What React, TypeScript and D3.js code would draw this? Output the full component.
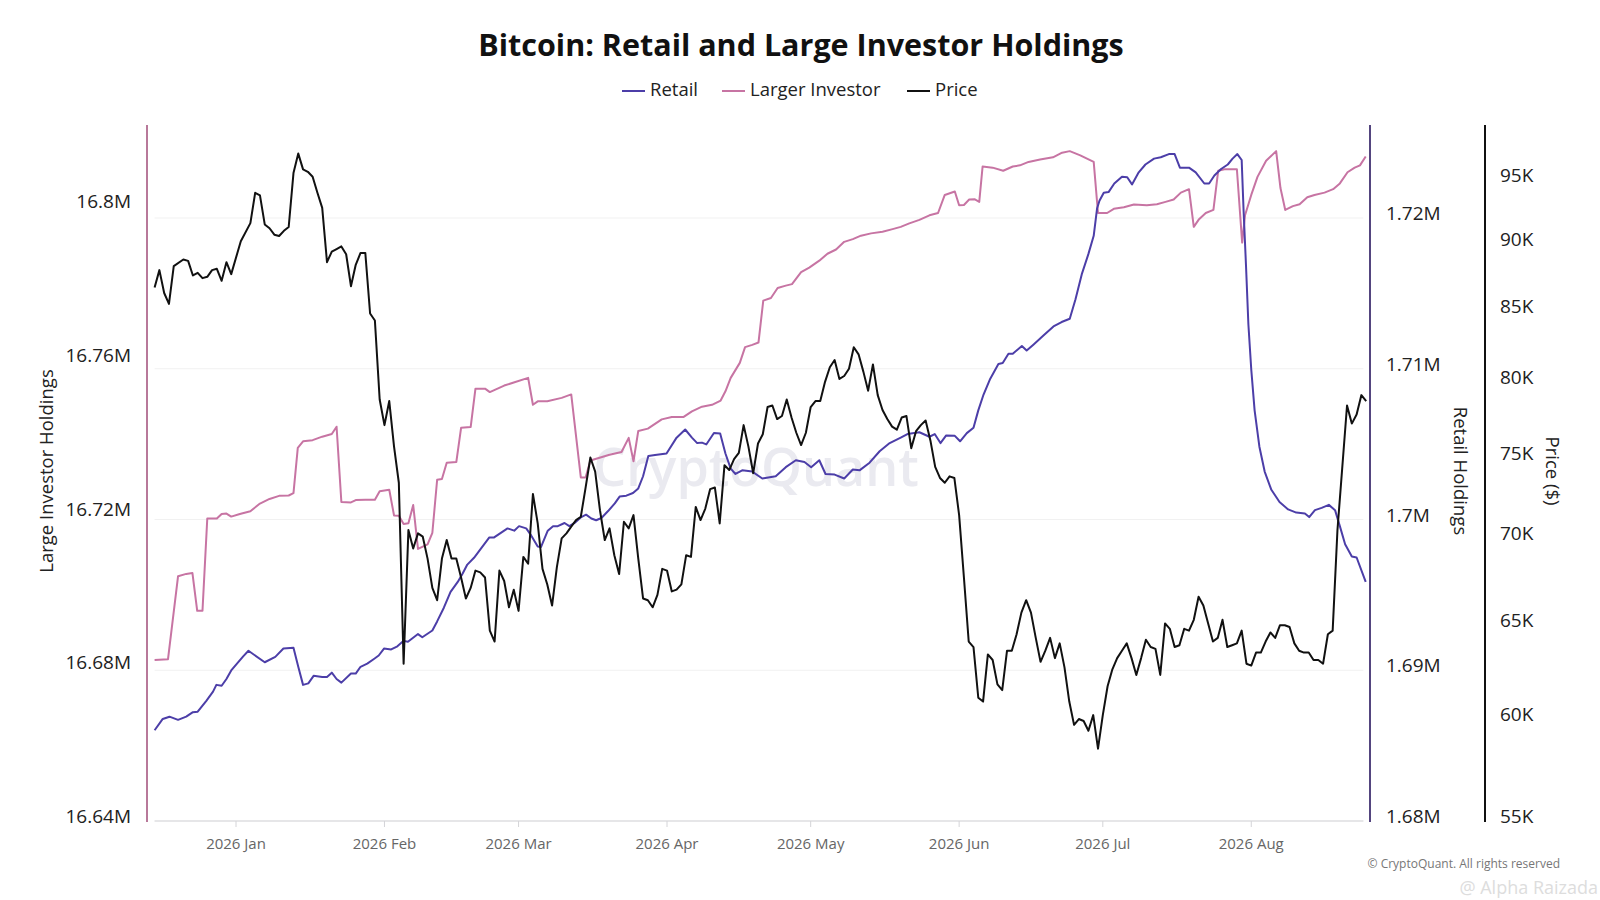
import * as d3 from 'd3'
import React, { useEffect, useRef } from 'react'

// day offsets from 2025-12-15
const START = new Date(2025, 11, 15)
const END = new Date(2026, 7, 24)

// Retail holdings (M BTC)
const retailHoldings: [number, number][] = [
  [0, 1.68602], [1.7, 1.68677], [3.1, 1.68692], [4.9, 1.68671], [6.6, 1.68692], [8, 1.68722], [9, 1.68725],
  [10.8, 1.68797], [12.2, 1.68858], [12.9, 1.68903], [14, 1.68897], [15, 1.68942], [16, 1.68999], [17.2, 1.69044],
  [18.5, 1.69092], [19.6, 1.69129], [23, 1.69053], [25.2, 1.69089], [26.9, 1.69144], [29, 1.6915], [30, 1.69023],
  [31, 1.68903], [32.1, 1.68913], [33.2, 1.68963], [35, 1.68956], [36, 1.68956], [37, 1.68984], [38, 1.68942],
  [39, 1.68918], [41, 1.68978], [42, 1.68978], [43, 1.69023], [44.4, 1.69044], [45.8, 1.69075], [46.8, 1.69098],
  [47.9, 1.69144], [49.4, 1.69138], [50.7, 1.69159], [52, 1.69195], [52.9, 1.69189], [55, 1.6924], [55.9, 1.69219],
  [58, 1.69264], [59, 1.69324], [60.4, 1.69415], [61.8, 1.6952], [63.3, 1.69586], [64.3, 1.6964], [65.3, 1.69701],
  [66.7, 1.69746], [68.1, 1.69805], [69.9, 1.69881], [70.9, 1.69881], [72.3, 1.69911], [73.7, 1.69941],
  [75.1, 1.69926], [76.1, 1.69956], [77.6, 1.69941], [78.6, 1.69896], [80, 1.69821], [80.7, 1.69818],
  [82.1, 1.69926], [83.2, 1.69956], [84.2, 1.69956], [85.6, 1.69977], [86.6, 1.69956], [87.7, 1.69977],
  [89.1, 1.70016], [90.1, 1.70032], [91.2, 1.70007], [92.2, 1.69995], [93.3, 1.7001], [94.7, 1.70056],
  [96.1, 1.70107], [97.1, 1.70152], [98.5, 1.70158], [99.9, 1.70176], [101, 1.70206], [102, 1.70287],
  [103.1, 1.70422], [104.5, 1.70428], [106.9, 1.70438], [109, 1.70543], [110.8, 1.70597], [112.2, 1.70543],
  [113.3, 1.70507], [114.3, 1.7051], [115.2, 1.70498], [116.8, 1.70574], [118.1, 1.70571], [119.2, 1.70438],
  [120.3, 1.70338], [121.3, 1.70302], [122.7, 1.70326], [124.8, 1.70318], [126.9, 1.70272], [129.7, 1.70287],
  [131.8, 1.70347], [133.9, 1.70393], [135.7, 1.70381], [137.1, 1.70347], [138.8, 1.70393], [140.1, 1.70302],
  [142, 1.70298], [144, 1.70272], [145.8, 1.70332], [147.2, 1.70326], [149.3, 1.70377], [151.4, 1.70453],
  [153.5, 1.70507], [155.8, 1.70543], [157.2, 1.70567], [159.7, 1.70579], [161.8, 1.70549], [162.9, 1.70567],
  [164.1, 1.70507], [165.3, 1.70558], [167.1, 1.70555], [168.2, 1.70519], [169.6, 1.70573], [171, 1.70609],
  [172, 1.70724], [173.1, 1.70829], [174.5, 1.70934], [176.2, 1.71031], [177.1, 1.71038], [178.3, 1.711],
  [179.2, 1.711], [181.1, 1.71151], [182.1, 1.71121], [183.5, 1.7116], [185.6, 1.7122], [187.7, 1.71281],
  [189.4, 1.7131], [191.1, 1.71332], [192.3, 1.71461], [193.6, 1.71626], [195, 1.71762], [196.1, 1.71882],
  [196.8, 1.72063], [197.3, 1.72114], [198.2, 1.72168], [199.2, 1.72172], [200.4, 1.72229], [202, 1.72274],
  [203.1, 1.7227], [204.1, 1.72223], [205.5, 1.72303], [206.9, 1.72355], [208.7, 1.72394], [210.1, 1.72403],
  [211.8, 1.72424], [213, 1.72424], [214.1, 1.72334], [216, 1.72334], [217.4, 1.72303], [219.2, 1.72229],
  [220.2, 1.72229], [221.3, 1.72282], [222.7, 1.72325], [224.1, 1.72355], [225.1, 1.72394], [226.1, 1.72424],
  [227, 1.72385], [227.4, 1.72048], [227.9, 1.71687], [228.4, 1.71295], [229, 1.70995], [229.7, 1.70724],
  [230.7, 1.70483], [231.8, 1.70318], [233.2, 1.70197], [234.9, 1.70116], [236.7, 1.70067], [238.4, 1.70046],
  [240.2, 1.7004], [241.1, 1.70016], [242.3, 1.70062], [243.7, 1.70077], [245.2, 1.70097], [246.5, 1.70062],
  [247.5, 1.69956], [248.6, 1.69836], [250, 1.69754], [251, 1.69748], [252.9, 1.69586],
]

// Large investor holdings (M BTC)
const largeInvestorHoldings: [number, number][] = [
  [0, 16.6819], [2.8, 16.6821], [4.9, 16.7037], [6.6, 16.7043], [7.9, 16.7045], [8.9, 16.6947], [10, 16.6947],
  [11, 16.7187], [13, 16.7187], [14, 16.7199], [15, 16.72], [16, 16.7192], [17.8, 16.7199], [20, 16.7206],
  [22, 16.7226], [24, 16.7238], [26, 16.7246], [28, 16.7247], [29, 16.7253], [29.9, 16.7371], [31, 16.7388],
  [33, 16.7391], [35, 16.74], [37, 16.7407], [38, 16.7426], [39, 16.723], [41, 16.7229], [42, 16.7235],
  [44, 16.7236], [46, 16.7236], [47, 16.7258], [49, 16.7262], [50, 16.7195], [51, 16.7194], [52, 16.7173],
  [53, 16.7175], [54, 16.7222], [55, 16.7108], [57, 16.712], [58, 16.715], [59, 16.7288], [60, 16.729],
  [61, 16.7332], [63, 16.7334], [64, 16.7423], [66, 16.7425], [67, 16.7525], [69, 16.7525], [70, 16.7516],
  [73, 16.7533], [75, 16.7541], [78, 16.7553], [79, 16.7483], [80, 16.7492], [82, 16.7492], [85, 16.7501],
  [87, 16.751], [89, 16.7294], [90, 16.7294], [91, 16.7338], [95, 16.7353], [97.5, 16.736], [99, 16.7397],
  [100, 16.7336], [101, 16.7415], [103, 16.7421], [105.9, 16.7445], [108, 16.7451], [110.4, 16.7451],
  [112.2, 16.7466], [114.3, 16.7478], [116.4, 16.7483], [118.2, 16.7494], [119.2, 16.7518], [120.3, 16.7553],
  [122.2, 16.7592], [123.3, 16.7633], [124.8, 16.7639], [126.1, 16.7645], [127.1, 16.7754], [128.7, 16.7761],
  [130.1, 16.7787], [131.8, 16.7793], [133.1, 16.7797], [135, 16.7828], [136.7, 16.784], [138.8, 16.7858],
  [140.5, 16.7876], [142.3, 16.7887], [144, 16.7907], [145.8, 16.7914], [147.5, 16.7923], [149.6, 16.7929],
  [152, 16.7933], [154.1, 16.794], [155.8, 16.7946], [157.6, 16.7955], [159.7, 16.7964], [161.8, 16.7976],
  [163.6, 16.7982], [165, 16.8029], [167.1, 16.8038], [168, 16.8002], [169, 16.8003], [170.1, 16.8017],
  [171.2, 16.8018], [172.2, 16.8011], [172.9, 16.8103], [175, 16.81], [177.2, 16.8092], [179.2, 16.8103],
  [180.7, 16.8106], [182.5, 16.8115], [184.9, 16.8121], [187.6, 16.8127], [189.5, 16.8139], [191.1, 16.8143],
  [193.3, 16.8132], [196.1, 16.8115], [197, 16.7982], [198.9, 16.7982], [200.3, 16.7993], [202.4, 16.7997],
  [204.5, 16.8004], [207.2, 16.8002], [209.3, 16.8005], [211.1, 16.8011], [212.8, 16.8017], [214.3, 16.8035],
  [216, 16.8044], [217, 16.7946], [218.1, 16.7966], [219.5, 16.7982], [221.1, 16.799], [222.1, 16.8092],
  [223.4, 16.8096], [226, 16.8096], [227.1, 16.7905], [227.7, 16.7976], [229, 16.8029], [230.3, 16.8076],
  [232.1, 16.8118], [234.2, 16.8143], [235.1, 16.8047], [236.1, 16.799], [237.7, 16.8], [239.1, 16.8005],
  [240.7, 16.8023], [242.2, 16.8029], [244.3, 16.8035], [246.1, 16.8044], [247.5, 16.8059], [249.1, 16.8088],
  [250.6, 16.81], [251.7, 16.8106], [252.9, 16.8129],
]

// BTC price (K USD)
const btcPrice: [number, number][] = [
  [0, 86.7], [1, 88.0], [2, 86.3], [3, 85.5], [4, 88.3], [6, 88.8], [7, 88.7], [8, 87.6], [9, 87.8], [10, 87.4],
  [11, 87.5], [12, 88.0], [13, 88.1], [14, 87.2], [15, 88.6], [16, 87.7], [18, 90.2], [20, 91.6], [21, 94.0],
  [22, 93.8], [23, 91.5], [24, 91.2], [25, 90.7], [26, 90.6], [27, 91.0], [28, 91.3], [29, 95.6], [30, 97.2],
  [31, 95.9], [32, 95.7], [33, 95.3], [34, 94.0], [35, 92.8], [36, 88.6], [37, 89.4], [38, 89.6], [39, 89.8],
  [40, 89.2], [41, 86.8], [42, 88.4], [43, 89.3], [44, 89.3], [45, 84.8], [46, 84.3], [47, 78.8], [48, 77.1],
  [49, 78.7], [50, 75.7], [51, 73.4], [52, 62.9], [53, 70.5], [54, 69.4], [55, 70.3], [56, 70.1], [57, 68.8],
  [58, 67.1], [59, 66.4], [60, 68.8], [61, 69.9], [62, 68.8], [63, 68.8], [64, 67.7], [65, 66.5], [66, 67.1],
  [67, 68.1], [68, 68.0], [69, 67.7], [70, 64.7], [71, 64.1], [72, 68.1], [73, 67.5], [74, 66.0], [75, 67.0],
  [76, 65.8], [77, 68.9], [78, 68.5], [79, 72.7], [80, 70.9], [81, 68.2], [82, 67.3], [83, 66.1], [84, 68.3],
  [85, 70.0], [86, 70.3], [87, 70.7], [88, 71.1], [89, 71.3], [90, 73.1], [91, 75.0], [92, 74.1], [93, 71.7],
  [94, 69.9], [95, 70.6], [96, 69.0], [97, 67.9], [98, 71.0], [99, 70.6], [100, 71.4], [101, 68.8], [102, 66.5],
  [103, 66.4], [104, 66.0], [105, 66.7], [106, 68.2], [107, 68.1], [108, 66.9], [109, 67.0], [110, 67.3],
  [111, 69.0], [112, 68.9], [113, 71.9], [114, 71.1], [115, 71.8], [116, 73.0], [117, 73.1], [118, 70.9],
  [119, 74.5], [120, 74.2], [121, 74.9], [122, 75.3], [123, 77.1], [124, 75.7], [125, 74.0], [126, 75.9],
  [127, 76.5], [128, 78.3], [129, 78.4], [130, 77.5], [131, 77.7], [132, 78.8], [133, 77.6], [134, 76.6],
  [135, 75.8], [136, 76.6], [137, 78.3], [138, 78.7], [139, 78.7], [140, 80.0], [141, 81.0], [142, 81.5],
  [143, 80.2], [144, 80.4], [145, 80.9], [146, 82.4], [147, 81.9], [148, 80.7], [149, 79.4], [150, 81.2],
  [151, 79.1], [152, 78.1], [153, 77.5], [154, 77.0], [155, 76.8], [156, 77.6], [157, 77.7], [158, 75.6],
  [159, 76.7], [160, 77.1], [161, 77.4], [162, 76.1], [163, 74.4], [164, 73.7], [165, 73.4], [166, 73.8],
  [167, 73.7], [168, 71.4], [169, 67.7], [170, 64.1], [171, 63.8], [172, 61.1], [173, 60.9], [174, 63.4],
  [175, 63.1], [176, 61.8], [177, 61.5], [178, 63.6], [179, 63.6], [180, 64.5], [181, 65.7], [182, 66.4],
  [183, 65.7], [184, 64.3], [185, 63.0], [186, 63.6], [187, 64.3], [188, 63.2], [189, 64.0], [190, 62.7],
  [191, 60.9], [192, 59.7], [193, 60.0], [194, 59.9], [195, 59.4], [196, 60.2], [197, 58.5], [198, 60.2],
  [199, 61.7], [200, 62.6], [201, 63.2], [202, 63.6], [203, 64.0], [204, 63.2], [205, 62.3], [206, 63.2],
  [207, 64.2], [208, 63.8], [209, 63.7], [210, 62.3], [211, 65.1], [212, 64.8], [213, 63.8], [214, 63.9],
  [215, 64.8], [216, 64.7], [217, 65.3], [218, 66.6], [219, 66.1], [220, 65.1], [221, 64.1], [222, 64.3],
  [223, 65.3], [224, 63.8], [225, 63.9], [226, 64.0], [227, 64.7], [228, 62.9], [229, 62.8], [230, 63.5],
  [231, 63.5], [232, 64.1], [233, 64.6], [234, 64.3], [235, 65.0], [236, 65.0], [237, 64.9], [238, 64.0],
  [239, 63.6], [240, 63.5], [241, 63.5], [242, 63.1], [243, 63.1], [244, 62.9], [245, 64.5], [246, 64.7],
  [247, 70.5], [249, 78.4], [250, 77.2], [251, 77.8], [252, 79.1], [253, 78.7],
]

const largeTicks = [16.64, 16.68, 16.72, 16.76, 16.8]
const retailTicks = [1.68, 1.69, 1.7, 1.71, 1.72]
const priceTicks = [55, 60, 65, 70, 75, 80, 85, 90, 95]
const monthTicks = [0, 1, 2, 3, 4, 5, 6, 7].map((m) => new Date(2026, m, 1))

const COLORS = { retail: '#4c3ea8', large: '#c774a3', price: '#111111' }
const FONT = '"Open Sans", "Noto Sans", sans-serif'

const W = 1600
const H = 900

const App = () => {
  const ref = useRef<SVGSVGElement>(null)

  useEffect(() => {
    const svg = d3.select(ref.current)
    svg.selectAll('*').remove()

    const top = 125
    const bottom = 821
    const left = 154.6
    const right = 1361.4

    const x = d3.scaleTime().domain([START, END]).range([left, right])
    const dayX = (d: number) => x(new Date(START.getTime() + d * 86400000))
    const yLarge = d3.scaleLinear().domain([16.64, 16.8211]).range([bottom, top])
    const yRetail = d3.scaleLinear().domain([1.68, 1.72617]).range([bottom, top])
    const yPrice = d3.scaleLog().domain([55, 99.6]).range([bottom, top])

    svg.style('font-family', FONT)

    // Title
    svg
      .append('text')
      .attr('x', 801)
      .attr('y', 48)
      .attr('text-anchor', 'middle')
      .attr('dominant-baseline', 'middle')
      .attr('font-size', 30.5)
      .attr('font-weight', 700)
      .attr('fill', '#111')
      .text('Bitcoin: Retail and Large Investor Holdings')

    // Legend
    const legend = [
      { label: 'Retail', color: COLORS.retail, x: 622 },
      { label: 'Larger Investor', color: COLORS.large, x: 722 },
      { label: 'Price', color: COLORS.price, x: 907 },
    ]
    legend.forEach((l) => {
      svg.append('line').attr('x1', l.x).attr('x2', l.x + 23).attr('y1', 91).attr('y2', 91)
        .attr('stroke', l.color).attr('stroke-width', 2)
      svg.append('text').attr('x', l.x + 28).attr('y', 91).attr('dominant-baseline', 'middle')
        .attr('font-size', 18.5).attr('fill', '#222').text(l.label)
    })

    // Watermark
    svg.append('text').attr('x', 756).attr('y', 472).attr('text-anchor', 'middle')
      .attr('dominant-baseline', 'middle').attr('font-size', 52).attr('font-weight', 600)
      .attr('fill', '#d9d9e4').attr('opacity', 0.55).text('CryptoQuant')

    // Grid lines (retail ticks)
    svg.append('g').selectAll('line').data(retailTicks).join('line')
      .attr('x1', left).attr('x2', right + 2)
      .attr('y1', (d) => yRetail(d)).attr('y2', (d) => yRetail(d))
      .attr('stroke', '#f1f1f1').attr('stroke-width', 1)

    // X axis
    const xg = svg.append('g')
    xg.append('line').attr('x1', left).attr('x2', right + 2).attr('y1', bottom).attr('y2', bottom)
      .attr('stroke', '#d4d4d8').attr('stroke-width', 1)
    xg.selectAll('line.tick').data(monthTicks).join('line').attr('class', 'tick')
      .attr('x1', (d) => x(d)).attr('x2', (d) => x(d)).attr('y1', bottom).attr('y2', bottom + 6)
      .attr('stroke', '#d4d4d8')
    xg.selectAll('text').data(monthTicks).join('text')
      .attr('x', (d) => x(d)).attr('y', 845).attr('text-anchor', 'middle').attr('dominant-baseline', 'middle')
      .attr('font-size', 15).attr('fill', '#666').text((d) => d3.timeFormat('%Y %b')(d))

    // Y axes
    svg.append('line').attr('x1', 147).attr('x2', 147).attr('y1', top).attr('y2', bottom + 1)
      .attr('stroke', '#b8799a').attr('stroke-width', 2)
    svg.append('g').selectAll('text').data(largeTicks).join('text')
      .attr('x', 131).attr('y', (d) => yLarge(d) - 3).attr('text-anchor', 'end').attr('dominant-baseline', 'middle')
      .attr('font-size', 19).attr('fill', '#222').text((d) => `${d}M`)

    svg.append('line').attr('x1', 1370).attr('x2', 1370).attr('y1', top).attr('y2', bottom + 1)
      .attr('stroke', '#54457f').attr('stroke-width', 2)
    svg.append('g').selectAll('text').data(retailTicks).join('text')
      .attr('x', 1386).attr('y', (d) => yRetail(d) - 3).attr('dominant-baseline', 'middle')
      .attr('font-size', 19).attr('fill', '#222').text((d) => `${d}M`)

    svg.append('line').attr('x1', 1485).attr('x2', 1485).attr('y1', top).attr('y2', bottom + 1)
      .attr('stroke', '#111').attr('stroke-width', 2)
    svg.append('g').selectAll('text').data(priceTicks).join('text')
      .attr('x', 1500).attr('y', (d) => yPrice(d) - 3).attr('dominant-baseline', 'middle')
      .attr('font-size', 19).attr('fill', '#222').text((d) => `${d}K`)

    // Axis titles
    const axisTitle = (tx: number, rot: number, label: string) =>
      svg.append('text').attr('transform', `translate(${tx},471) rotate(${rot})`)
        .attr('text-anchor', 'middle').attr('dominant-baseline', 'middle')
        .attr('font-size', 18.5).attr('fill', '#222').text(label)
    axisTitle(48, -90, 'Large Investor Holdings')
    axisTitle(1459, 90, 'Retail Holdings')
    axisTitle(1551, 90, 'Price ($)')

    // Lines
    const draw = (data: [number, number][], y: (v: number) => number, color: string, w: number) =>
      svg.append('path').datum(data)
        .attr('d', d3.line<[number, number]>().x((d) => dayX(d[0])).y((d) => y(d[1])))
        .attr('fill', 'none').attr('stroke', color).attr('stroke-width', w).attr('stroke-linejoin', 'round')

    draw(largeInvestorHoldings, yLarge, COLORS.large, 2)
    draw(retailHoldings, yRetail, COLORS.retail, 2)
    draw(btcPrice, yPrice, COLORS.price, 2)

    // Credits
    svg.append('text').attr('x', 1560).attr('y', 865).attr('text-anchor', 'end').attr('dominant-baseline', 'middle')
      .attr('font-size', 12).attr('fill', '#777').text('© CryptoQuant. All rights reserved')
    svg.append('text').attr('x', 1598).attr('y', 889).attr('text-anchor', 'end').attr('dominant-baseline', 'middle')
      .attr('font-size', 18).attr('fill', '#cfcfcf').attr('opacity', 0.7).text('@ Alpha Raizada')
  }, [])

  return <svg ref={ref} width={W} height={H} style={{ position: 'absolute', left: 0, top: 0, background: '#fff' }} />
}

export default App
